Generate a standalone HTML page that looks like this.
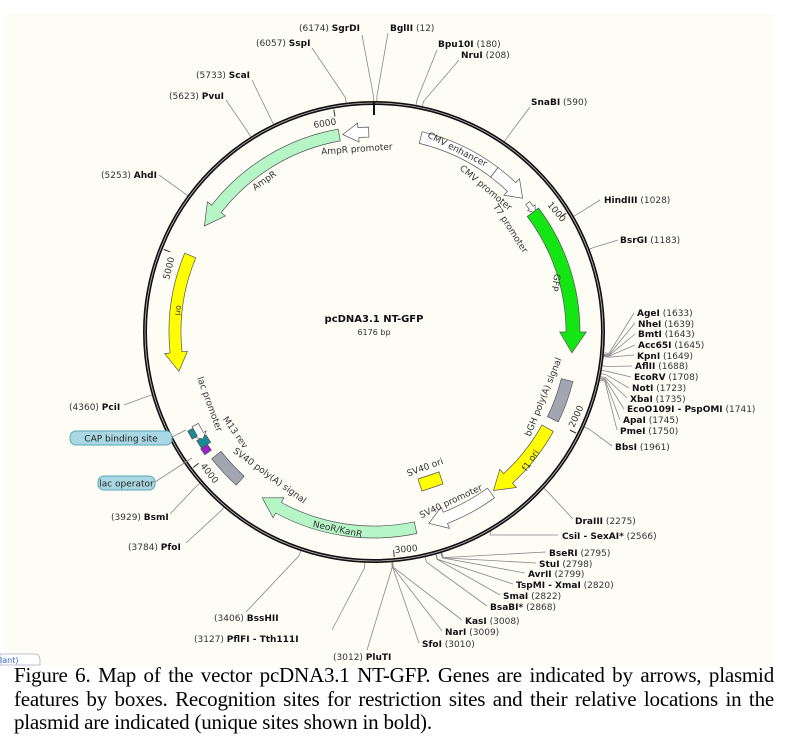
<!DOCTYPE html>
<html><head><meta charset="utf-8"><style>
html,body{margin:0;padding:0;background:#fff;width:808px;height:755px;overflow:hidden}
svg{position:absolute;left:0;top:0}
.b{font-family:"DejaVu Sans",sans-serif;font-size:9px;font-weight:bold;fill:#111}
.n{font-family:"DejaVu Sans",sans-serif;font-size:9px;fill:#333}
.f{font-family:"DejaVu Sans",sans-serif;font-size:9px;fill:#333}
.cap{position:absolute;left:14px;top:664px;width:760px;font-family:"Liberation Serif",serif;font-size:21px;line-height:23.5px;text-align:justify;color:#000;letter-spacing:-0.2px}
</style></head><body>
<svg width="808" height="755" viewBox="0 0 808 755" xmlns="http://www.w3.org/2000/svg">
<rect x="6" y="14" width="768" height="651" fill="#fdfcf5"/>
<path d="M0,654 h34 q6,0 6,6 v5 h-40z" fill="#fff" stroke="#aac" stroke-width="0.8"/>
<text x="0" y="663" font-family="DejaVu Sans,sans-serif" font-size="8" fill="#36c">lant)</text>
<g id="lines" stroke="#888" stroke-width="0.8" fill="none"></g>
<circle cx="374" cy="332" r="229" fill="none" stroke="#111" stroke-width="4"/>
<circle cx="374" cy="332" r="229" fill="none" stroke="#bbb" stroke-width="0.8"/>
<line x1="374" y1="101" x2="374" y2="115" stroke="#111" stroke-width="2"/>
<g id="feat"></g>
<g id="ticks" stroke="#333" stroke-width="1"></g>
<text class="f" transform="translate(314,128) rotate(-9)">6000</text>
<text class="f" transform="translate(547,205) rotate(50)">1000</text>
<text class="f" transform="translate(574,428) rotate(-65)">2000</text>
<text class="f" transform="translate(395,553) rotate(-5)">3000</text>
<text class="f" transform="translate(200,466) rotate(52)">4000</text>
<text class="f" transform="translate(169,280) rotate(-76)">5000</text>
<text x="374" y="322" text-anchor="middle" class="b" style="font-size:10px">pcDNA3.1 NT-GFP</text>
<text x="374" y="335" text-anchor="middle" class="n" style="font-size:8px">6176 bp</text>
<text class="f" text-anchor="middle" transform="translate(357,152) rotate(-4)">AmpR promoter</text>
<text class="f" text-anchor="middle" transform="translate(266,183) rotate(-35)">AmpR</text>
<text class="f" text-anchor="middle" transform="translate(456,152) rotate(27)">CMV enhancer</text>
<text class="f" text-anchor="middle" transform="translate(484,190) rotate(40)">CMV promoter</text>
<text class="f" text-anchor="middle" transform="translate(508,230) rotate(57)">T7 promoter</text>
<text class="f" text-anchor="middle" transform="translate(553,282) rotate(100)">GFP</text>
<text class="f" text-anchor="middle" transform="translate(546,398) rotate(-68)">bGH poly(A) signal</text>
<text class="f" text-anchor="middle" transform="translate(533,462) rotate(-56)">f1 ori</text>
<text class="f" text-anchor="middle" transform="translate(452,504) rotate(-25)">SV40 promoter</text>
<text class="f" text-anchor="middle" transform="translate(426,470) rotate(-20)">SV40 ori</text>
<text class="f" text-anchor="middle" transform="translate(337,532) rotate(12)">NeoR/KanR</text>
<text class="f" text-anchor="middle" transform="translate(268,478) rotate(36)">SV40 poly(A) signal</text>
<text class="f" text-anchor="middle" transform="translate(233,434) rotate(55)">M13 rev</text>
<text class="f" text-anchor="middle" transform="translate(207,405) rotate(70)">lac promoter</text>
<text class="f" text-anchor="middle" transform="translate(176,310) rotate(100)" style="font-size:8px">ori</text>
<g id="lab">
<text x="299" y="31"><tspan class="n">(6174) </tspan><tspan class="b">SgrDI</tspan></text>
<text x="390" y="31"><tspan class="b">BglII</tspan><tspan class="n"> (12)</tspan></text>
<text x="256" y="46"><tspan class="n">(6057) </tspan><tspan class="b">SspI</tspan></text>
<text x="438" y="47"><tspan class="b">Bpu10I</tspan><tspan class="n"> (180)</tspan></text>
<text x="461" y="58"><tspan class="b">NruI</tspan><tspan class="n"> (208)</tspan></text>
<text x="196" y="78"><tspan class="n">(5733) </tspan><tspan class="b">ScaI</tspan></text>
<text x="169" y="99"><tspan class="n">(5623) </tspan><tspan class="b">PvuI</tspan></text>
<text x="531" y="105"><tspan class="b">SnaBI</tspan><tspan class="n"> (590)</tspan></text>
<text x="101" y="178"><tspan class="n">(5253) </tspan><tspan class="b">AhdI</tspan></text>
<text x="604" y="203"><tspan class="b">HindIII</tspan><tspan class="n"> (1028)</tspan></text>
<text x="620" y="243"><tspan class="b">BsrGI</tspan><tspan class="n"> (1183)</tspan></text>
<text x="637" y="316"><tspan class="b">AgeI</tspan><tspan class="n"> (1633)</tspan></text>
<text x="638" y="327"><tspan class="b">NheI</tspan><tspan class="n"> (1639)</tspan></text>
<text x="638" y="337"><tspan class="b">BmtI</tspan><tspan class="n"> (1643)</tspan></text>
<text x="638" y="348"><tspan class="b">Acc65I</tspan><tspan class="n"> (1645)</tspan></text>
<text x="637" y="359"><tspan class="b">KpnI</tspan><tspan class="n"> (1649)</tspan></text>
<text x="635" y="369"><tspan class="b">AflII</tspan><tspan class="n"> (1688)</tspan></text>
<text x="634" y="380"><tspan class="b">EcoRV</tspan><tspan class="n"> (1708)</tspan></text>
<text x="632" y="391"><tspan class="b">NotI</tspan><tspan class="n"> (1723)</tspan></text>
<text x="630" y="402"><tspan class="b">XbaI</tspan><tspan class="n"> (1735)</tspan></text>
<text x="627" y="412"><tspan class="b">EcoO109I - PspOMI</tspan><tspan class="n"> (1741)</tspan></text>
<text x="623" y="423"><tspan class="b">ApaI</tspan><tspan class="n"> (1745)</tspan></text>
<text x="620" y="434"><tspan class="b">PmeI</tspan><tspan class="n"> (1750)</tspan></text>
<text x="615" y="450"><tspan class="b">BbsI</tspan><tspan class="n"> (1961)</tspan></text>
<text x="575" y="524"><tspan class="b">DraIII</tspan><tspan class="n"> (2275)</tspan></text>
<text x="562" y="539"><tspan class="b">CsiI - SexAI*</tspan><tspan class="n"> (2566)</tspan></text>
<text x="549" y="556"><tspan class="b">BseRI</tspan><tspan class="n"> (2795)</tspan></text>
<text x="539" y="567"><tspan class="b">StuI</tspan><tspan class="n"> (2798)</tspan></text>
<text x="528" y="577"><tspan class="b">AvrII</tspan><tspan class="n"> (2799)</tspan></text>
<text x="516" y="588"><tspan class="b">TspMI - XmaI</tspan><tspan class="n"> (2820)</tspan></text>
<text x="503" y="599"><tspan class="b">SmaI</tspan><tspan class="n"> (2822)</tspan></text>
<text x="490" y="610"><tspan class="b">BsaBI*</tspan><tspan class="n"> (2868)</tspan></text>
<text x="465" y="624"><tspan class="b">KasI</tspan><tspan class="n"> (3008)</tspan></text>
<text x="445" y="635"><tspan class="b">NarI</tspan><tspan class="n"> (3009)</tspan></text>
<text x="422" y="647"><tspan class="b">SfoI</tspan><tspan class="n"> (3010)</tspan></text>
<text x="333" y="660"><tspan class="n">(3012) </tspan><tspan class="b">PluTI</tspan></text>
<text x="214" y="621"><tspan class="n">(3406) </tspan><tspan class="b">BssHII</tspan></text>
<text x="194" y="642"><tspan class="n">(3127) </tspan><tspan class="b">PflFI - Tth111I</tspan></text>
<text x="128" y="550"><tspan class="n">(3784) </tspan><tspan class="b">PfoI</tspan></text>
<text x="111" y="520"><tspan class="n">(3929) </tspan><tspan class="b">BsmI</tspan></text>
<text x="69" y="410"><tspan class="n">(4360) </tspan><tspan class="b">PciI</tspan></text>
</g>
<rect x="70" y="431" width="102" height="14" rx="6" fill="#a9d8e2" stroke="#5aa8bb" stroke-width="1"/>
<text x="121" y="441.5" text-anchor="middle" font-family="DejaVu Sans,sans-serif" font-size="9" fill="#222">CAP binding site</text>
<rect x="98" y="476" width="57" height="14" rx="6" fill="#a9d8e2" stroke="#5aa8bb" stroke-width="1"/>
<text x="126.5" y="486.5" text-anchor="middle" font-family="DejaVu Sans,sans-serif" font-size="9" fill="#222">lac operator</text>
<line x1="172" y1="437" x2="186" y2="430" stroke="#888" stroke-width="0.8"/>
<line x1="155" y1="482" x2="192" y2="458" stroke="#888" stroke-width="0.8"/>
</svg>
<div class="cap">Figure 6. Map of the vector pcDNA3.1 NT-GFP. Genes are indicated by arrows, plasmid features by boxes. Recognition sites for restriction sites and their relative locations in the plasmid are indicated (unique sites shown in bold).</div>
<script>
var cx=374,cy=332,NS="http://www.w3.org/2000/svg";
function P(a,r){var t=a*Math.PI/180;return [cx+r*Math.sin(t),cy-r*Math.cos(t)];}
function f(p){return p[0].toFixed(1)+","+p[1].toFixed(1);}
function arc(a1,a2,r){var sw=a2>a1?1:0,lg=Math.abs(a2-a1)>180?1:0;return "A"+r+","+r+" 0 "+lg+" "+sw+" "+f(P(a2,r));}
function add(g,tag,at){var e=document.createElementNS(NS,tag);for(var k in at)e.setAttribute(k,at[k]);document.getElementById(g).appendChild(e);return e;}
function box(a1,a2,r1,r2,fill){var d="M"+f(P(a1,r2))+arc(a1,a2,r2)+"L"+f(P(a2,r1))+arc(a2,a1,r1)+"Z";add("feat","path",{d:d,fill:fill,stroke:"#555","stroke-width":0.7});}
function arrow(a1,a2,r1,r2,h,fill){var dir=a2>a1?1:-1,ah=a2-dir*h,rm=(r1+r2)/2,w=(r2-r1);
var d="M"+f(P(a1,r2))+arc(a1,ah,r2)+"L"+f(P(ah,r2+w*0.45))+"L"+f(P(a2,rm))+"L"+f(P(ah,r1-w*0.45))+"L"+f(P(ah,r1))+arc(ah,a1,r1)+"Z";
add("feat","path",{d:d,fill:fill,stroke:"#555","stroke-width":0.7});}
var W="#ffffff",LG="#b5f5c6",Y="#ffff00",G="#14e614",GR="#a2a6b0";
arrow(-1.5,-9,195,205,4.5,W);
arrow(-10,-58,194,206,6,LG);
box(13.5,37,194,206,W);
arrow(37,48,194,206,4.5,W);
arrow(50,53.5,198,203,1.8,W);
arrow(53,96,192,206,6,G);
box(104,116,193,205,GR);
arrow(119,143,192,205,5.5,Y);
arrow(144,164,193,205,5,W);
arrow(168,214,194,206,5.5,LG);
box(222,232,194,206,GR);
arrow(292.6,258.6,193,205,5.5,Y);
box(239.5,242,200,211,"#1a8a99");
box(236,238.5,197,208,"#1a8a99");
box(234,236,201,209,"#9922cc");
arrow(242.5,238,198,205,1.5,W);
add("feat","path",{d:"M418,479 L439,472 L443,484 L422,491Z",fill:Y,stroke:"#555","stroke-width":0.7});
[1000,2000,3000,4000,5000,6000].forEach(function(p){var a=p/6176*360;var p1=P(a,226),p2=P(a,219);add("ticks","line",{x1:p1[0],y1:p1[1],x2:p2[0],y2:p2[1]});});
var L=[[6174,362,35],[12,388,33],[6057,312,48],[180,437,50],[208,459,60],[5733,252,80],[5623,226,100],[590,530,107],[5253,159,175],[1028,600,200],[1183,618,240],
[1633,634,313],[1639,635,323],[1643,635,334],[1645,635,345],[1649,634,355],[1688,632,366],[1708,631,377],[1723,629,388],[1735,627,398],[1741,624,409],[1745,620,420],[1750,617,430],[1961,612,446],
[2275,573,519],[2795,546,552],[2798,536,563],[2799,525,573],[2820,513,584],[2822,500,595],[2868,487,606],[3008,462,620],[3009,442,631],[3010,419,643],[3012,367,650],
[3406,246,612],[3127,332,630],[3784,186,543],[3929,170,514],[4360,124,405]];
L.forEach(function(l){var a=l[0]/6176*360,p=P(a,231),q=P(a,236);add("lines","polyline",{points:f(p)+" "+f(q)+" "+l[1]+","+l[2]});});
add("lines","polyline",{points:f(P(2566/6176*360,231))+" 490,535 558,535"});
</script>
</body></html>
